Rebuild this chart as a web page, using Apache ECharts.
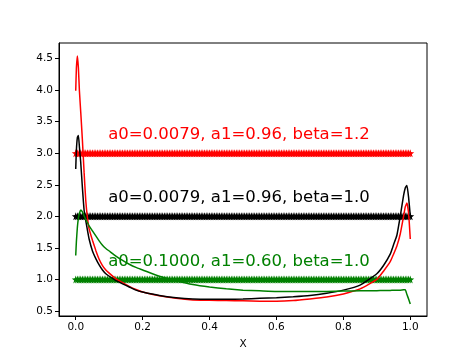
<!DOCTYPE html>
<html>
<head>
<meta charset="utf-8">
<script src="https://cdn.jsdelivr.net/npm/echarts@6/dist/echarts.min.js"></script>
<style>
html,body{margin:0;padding:0;background:#fff;}
#chart{width:474px;height:355px;}
</style>
</head>
<body>
<div id="chart"></div>
<script>
// Shared x sampling of the three curves
const xGrid = [0, 0.002, 0.005, 0.008, 0.011, 0.015, 0.02, 0.025, 0.03, 0.035, 0.04, 0.05, 0.06, 0.07, 0.08, 0.09, 0.1, 0.12, 0.14, 0.16, 0.18, 0.2, 0.25, 0.3, 0.35, 0.4, 0.45, 0.5, 0.55, 0.6, 0.65, 0.7, 0.75, 0.8, 0.85, 0.9, 0.92, 0.94, 0.95, 0.96, 0.97, 0.98, 0.985, 0.99, 0.995, 1.0];
// a0=0.0079, a1=0.96, beta=1.2 (red)
const redY = [3.99, 4.35, 4.54, 4.35, 3.99, 3.65, 3.2, 2.7, 2.25, 1.98, 1.80, 1.62, 1.46, 1.32, 1.22, 1.15, 1.10, 1.01, 0.95, 0.89, 0.84, 0.80, 0.74, 0.70, 0.675, 0.67, 0.665, 0.66, 0.655, 0.655, 0.665, 0.69, 0.72, 0.77, 0.85, 1.0, 1.13, 1.28, 1.40, 1.53, 1.72, 2.0, 2.15, 2.21, 2.05, 1.64];
// a0=0.0079, a1=0.96, beta=1.0 (black)
const blackY = [2.75, 3.05, 3.25, 3.28, 3.1, 2.85, 2.45, 2.1, 1.93, 1.78, 1.64, 1.45, 1.33, 1.23, 1.15, 1.09, 1.05, 0.98, 0.93, 0.88, 0.83, 0.80, 0.745, 0.71, 0.69, 0.685, 0.685, 0.69, 0.70, 0.71, 0.725, 0.745, 0.78, 0.83, 0.91, 1.09, 1.22, 1.40, 1.55, 1.70, 2.0, 2.33, 2.45, 2.49, 2.3, 2.01];
// a0=0.1000, a1=0.60, beta=1.0 (green)
const greenY = [1.38, 1.60, 1.83, 1.97, 2.05, 2.10, 2.07, 2.01, 1.95, 1.90, 1.85, 1.77, 1.69, 1.61, 1.54, 1.49, 1.45, 1.37, 1.30, 1.24, 1.19, 1.15, 1.05, 0.98, 0.92, 0.88, 0.85, 0.83, 0.82, 0.81, 0.81, 0.81, 0.81, 0.815, 0.82, 0.82, 0.825, 0.825, 0.83, 0.83, 0.83, 0.835, 0.835, 0.76, 0.69, 0.61];
// Constant marker lines
const markerLevels = [3.0, 2.0, 1.0];
const markerCount = 201;
// Annotations
const labelTexts = ['a0=0.0079, a1=0.96, beta=1.2', 'a0=0.0079, a1=0.96, beta=1.0', 'a0=0.1000, a1=0.60, beta=1.0'];
const labelX = [0.1, 0.1, 0.1];
const labelY = [3.2, 2.2, 1.2];
const colors = ['#ff0000', '#000000', '#008000'];
// Ticks
const xTicks = [0.0, 0.2, 0.4, 0.6, 0.8, 1.0];
const yTicks = [0.5, 1.0, 1.5, 2.0, 2.5, 3.0, 3.5, 4.0, 4.5];

const zip = (xs, ys) => xs.map((x, i) => [x, ys[i]]);
const markerX = [];
for (let i = 0; i < markerCount; i++) markerX.push(i / (markerCount - 1));

const star = 'path://M0,-10L2.35,-3.24L9.51,-3.09L3.8,1.24L5.88,8.09L0,4L-5.88,8.09L-3.8,1.24L-9.51,-3.09L-2.35,-3.24Z';
const font = 'DejaVu Sans';

const series = [];
const curves = [redY, blackY, greenY];
markerLevels.forEach((lv, k) => {
  series.push({
    type: 'line',
    data: markerX.map(x => [x, lv]),
    showSymbol: true,
    showAllSymbol: true,
    symbol: star,
    symbolSize: 8,
    itemStyle: { color: colors[k], opacity: 1 },
    lineStyle: { color: colors[k], width: 2 },
    z: 2
  });
});
curves.forEach((ys, k) => {
  series.push({
    type: 'line',
    data: zip(xGrid, ys),
    showSymbol: false,
    smooth: 0.15,
    lineStyle: { color: colors[k], width: 1.5 },
    z: 3
  });
});
labelTexts.forEach((t, k) => {
  series.push({
    type: 'scatter',
    data: [[labelX[k], labelY[k]]],
    symbolSize: 0,
    silent: true,
    itemStyle: { opacity: 1, color: colors[k] },
    label: {
      show: true,
      formatter: t,
      position: [0, 0],
      align: 'left',
      verticalAlign: 'bottom',
      offset: [-1, 3],
      color: colors[k],
      opacity: 1,
      fontFamily: font,
      fontSize: 16.5
    },
    z: 4
  });
});

const chart = echarts.init(document.getElementById('chart'), null, { renderer: 'canvas' });
chart.setOption({
  animation: false,
  backgroundColor: '#ffffff',
  grid: { left: 59, right: 47, top: 43, bottom: 39, show: true, borderColor: '#000', borderWidth: 1, containLabel: false },
  xAxis: {
    type: 'value',
    min: -0.05, max: 1.05,
    name: 'X', nameLocation: 'middle', nameGap: 23,
    nameTextStyle: { fontFamily: font, fontSize: 10.5, color: '#000' },
    axisLine: { show: true, onZero: false, lineStyle: { color: '#000', width: 1 } },
    axisTick: { show: true, customValues: xTicks, length: 4, lineStyle: { color: '#000' } },
    axisLabel: { customValues: xTicks, formatter: v => v.toFixed(1), fontFamily: font, fontSize: 10.5, color: '#000', margin: 6 },
    splitLine: { show: false }
  },
  yAxis: {
    type: 'value',
    min: 0.42, max: 4.747,
    axisLine: { show: true, onZero: false, lineStyle: { color: '#000', width: 1 } },
    axisTick: { show: true, customValues: yTicks, length: 4, lineStyle: { color: '#000' } },
    axisLabel: { customValues: yTicks, formatter: v => v.toFixed(1), fontFamily: font, fontSize: 10.5, color: '#000', margin: 6 },
    splitLine: { show: false }
  },
  series: series
});
</script>
</body>
</html>
